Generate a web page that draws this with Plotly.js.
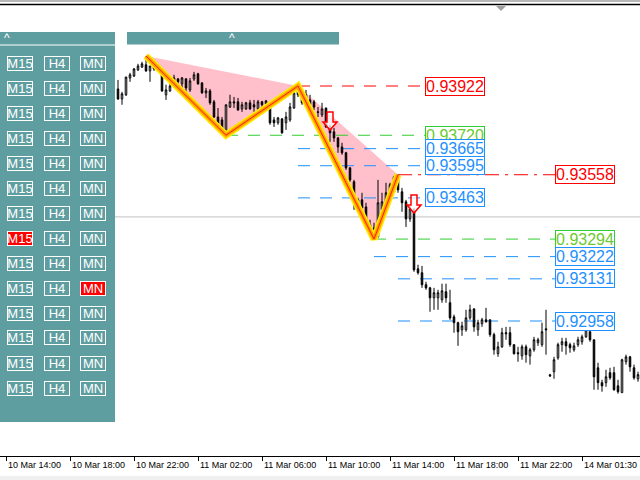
<!DOCTYPE html>
<html><head><meta charset="utf-8">
<script src="https://cdn.plot.ly/plotly-3.0.1.min.js"></script>
<style>html,body{margin:0;padding:0;background:#fff}#chart{width:640px;height:480px}</style>
</head><body><div id="chart"></div>
<script>
// ---- Axis labels ----
const tickLabels = ['10 Mar 14:00','10 Mar 18:00','10 Mar 22:00','11 Mar 02:00','11 Mar 06:00','11 Mar 10:00','11 Mar 14:00','11 Mar 18:00','11 Mar 22:00','14 Mar 01:30'];
const tickBars = [0,16,32,48,64,80,96,112,128,144];
const firstBar = 28;

// ---- M15 candles (prices) ----
const openP = [0.93910,0.93869,0.93886,0.93955,0.93963,0.93988,0.94000,0.94009,0.93984,0.94004,
0.93996,0.93984,0.93886,0.93902,0.93918,0.93951,0.93931,0.93951,0.93906,0.93951,
0.93972,0.93935,0.93894,0.93902,0.93857,0.93795,0.93783,0.93726,0.93836,0.93857,
0.93857,0.93828,0.93828,0.93853,0.93845,0.93828,0.93857,0.93849,0.93832,0.93783,
0.93771,0.93787,0.93771,0.93783,0.93832,0.93914,0.93898,0.93886,0.93865,0.93857,
0.93816,0.93804,0.93832,0.93754,0.93734,0.93709,0.93672,0.93648,0.93586,0.93529,
0.93414,0.93455,0.93426,0.93353,0.93340,0.93303,0.93414,0.93414,0.93476,0.93488,
0.93556,0.93488,0.93447,0.93377,0.93414,0.93172,0.93156,0.93107,0.93094,0.93053,
0.93053,0.93045,0.93078,0.93033,0.92975,0.92951,0.92922,0.92922,0.92971,0.93008,
0.92922,0.92947,0.92963,0.92963,0.92902,0.92824,0.92852,0.92910,0.92910,0.92861,
0.92828,0.92815,0.92852,0.92815,0.92840,0.92869,0.92861,0.92926,0.92737,0.92750,
0.92807,0.92861,0.92873,0.92861,0.92840,0.92861,0.92873,0.92893,0.92914,0.92881,
0.92766,0.92705,0.92705,0.92746,0.92746,0.92692,0.92664,0.92791,0.92811,0.92766,
0.92721];
const highP = [0.93947,0.93898,0.93959,0.93976,0.93996,0.94013,0.94021,0.94045,0.94004,0.94009,
0.94004,0.93988,0.93927,0.93939,0.93968,0.93955,0.93959,0.93955,0.93955,0.93980,
0.93976,0.93935,0.93914,0.93910,0.93865,0.93832,0.93795,0.93845,0.93886,0.93877,
0.93873,0.93857,0.93857,0.93865,0.93865,0.93865,0.93861,0.93865,0.93832,0.93795,
0.93795,0.93791,0.93816,0.93853,0.93914,0.93922,0.93914,0.93906,0.93886,0.93865,
0.93836,0.93853,0.93832,0.93763,0.93750,0.93713,0.93689,0.93652,0.93590,0.93537,
0.93463,0.93484,0.93443,0.93373,0.93361,0.93537,0.93484,0.93525,0.93525,0.93553,
0.93558,0.93504,0.93455,0.93430,0.93422,0.93189,0.93184,0.93119,0.93098,0.93094,
0.93086,0.93111,0.93111,0.93086,0.92984,0.92955,0.92955,0.93004,0.93025,0.93008,
0.92963,0.92971,0.93012,0.92963,0.92910,0.92873,0.92930,0.92934,0.92934,0.92861,
0.92852,0.92861,0.92861,0.92848,0.92893,0.92889,0.92951,0.93004,0.92741,0.92811,
0.92869,0.92889,0.92889,0.92869,0.92869,0.92893,0.92902,0.92942,0.92955,0.92881,
0.92787,0.92717,0.92758,0.92766,0.92770,0.92717,0.92803,0.92820,0.92815,0.92779,
0.92750];
const lowP = [0.93865,0.93845,0.93881,0.93939,0.93959,0.93984,0.93996,0.93980,0.93939,0.93984,
0.93980,0.93898,0.93865,0.93898,0.93914,0.93914,0.93898,0.93890,0.93898,0.93943,
0.93927,0.93890,0.93873,0.93845,0.93791,0.93742,0.93720,0.93720,0.93832,0.93832,
0.93820,0.93816,0.93824,0.93824,0.93816,0.93816,0.93836,0.93840,0.93763,0.93754,
0.93763,0.93726,0.93742,0.93775,0.93828,0.93877,0.93845,0.93849,0.93832,0.93824,
0.93795,0.93795,0.93750,0.93693,0.93693,0.93648,0.93640,0.93578,0.93529,0.93414,
0.93406,0.93406,0.93340,0.93324,0.93294,0.93299,0.93406,0.93406,0.93455,0.93484,
0.93484,0.93406,0.93344,0.93365,0.93160,0.93148,0.93094,0.93086,0.92996,0.93004,
0.93004,0.93033,0.93033,0.92963,0.92910,0.92856,0.92897,0.92914,0.92963,0.92914,
0.92897,0.92934,0.92951,0.92893,0.92820,0.92811,0.92848,0.92881,0.92852,0.92820,
0.92791,0.92799,0.92787,0.92779,0.92832,0.92856,0.92852,0.92820,0.92729,0.92721,
0.92799,0.92832,0.92820,0.92828,0.92832,0.92852,0.92861,0.92889,0.92873,0.92676,
0.92676,0.92668,0.92688,0.92717,0.92672,0.92660,0.92664,0.92779,0.92750,0.92717,
0.92709];
const closeP = [0.93869,0.93890,0.93959,0.93968,0.93992,0.94004,0.94013,0.93984,0.94004,0.93992,
0.93994,0.93902,0.93906,0.93922,0.93955,0.93939,0.93955,0.93914,0.93943,0.93968,
0.93931,0.93894,0.93902,0.93853,0.93795,0.93750,0.93730,0.93845,0.93857,0.93853,
0.93824,0.93845,0.93853,0.93828,0.93836,0.93857,0.93845,0.93861,0.93771,0.93771,
0.93791,0.93730,0.93795,0.93836,0.93894,0.93886,0.93853,0.93857,0.93845,0.93836,
0.93814,0.93828,0.93754,0.93730,0.93709,0.93672,0.93648,0.93586,0.93537,0.93455,
0.93455,0.93422,0.93344,0.93332,0.93303,0.93443,0.93447,0.93484,0.93517,0.93549,
0.93496,0.93443,0.93377,0.93418,0.93168,0.93156,0.93107,0.93094,0.93053,0.93074,
0.93074,0.93082,0.93053,0.92971,0.92951,0.92914,0.92938,0.92971,0.93004,0.92934,
0.92951,0.92963,0.92955,0.92902,0.92840,0.92852,0.92910,0.92906,0.92861,0.92824,
0.92824,0.92852,0.92820,0.92840,0.92881,0.92881,0.92914,0.92922,0.92733,0.92799,
0.92861,0.92873,0.92856,0.92848,0.92856,0.92881,0.92893,0.92922,0.92881,0.92729,
0.92705,0.92692,0.92729,0.92725,0.92676,0.92668,0.92799,0.92811,0.92770,0.92725,
0.92738];

// ---- Harmonic pattern X A B C D ----
const patternBars = [35, 55, 73, 92, 98];
const patternPrices = [0.94045, 0.93720, 0.93922, 0.93294, 0.93558];

// ---- Levels ----
const levelPrices = [0.93922, 0.93720, 0.93665, 0.93595, 0.93558, 0.93463, 0.93294, 0.93222, 0.93131, 0.92958];
const levelFromBar = [73, 55, 73, 73, 98, 73, 92, 92, 98, 98];
const levelGroup  = [0, 0, 0, 0, 1, 0, 1, 1, 1, 1];
const levelKind   = ['red','green','blue','blue','reddot','blue','green','blue','blue','blue'];
const labelBars = [104.75, 137.25];

// ---- Arrows, reference line ----
const arrowBars = [81, 102];
const arrowPrices = [0.93778, 0.93438];
const greyLinePrice = 0.93385;

// ---- Panel buttons ----
const btnRows = 14;
const btnNames = ['M15','H4','MN'];
const activeButtons = [[7,0],[9,2]];

// ---------------- build ----------------
const H = 480, W = 640, TOP = 5, BOT = 456;
const px = x => x / W;
const py = y => (BOT - y) / (BOT - TOP);
const teal = '#5F9EA0';
const styles = {
  red:    {line:'#FF0000', text:'#FF0000', dash:'12px,10px'},
  reddot: {line:'#FF0000', text:'#FF0000', dash:'14px,6px,3px,6px'},
  green:  {line:'#32CD32', text:'#6ACB2E', dash:'12px,10px'},
  blue:   {line:'#1E90FF', text:'#1E90FF', dash:'12px,10px'}
};

const xBars = openP.map((_, k) => firstBar + k);

const traces = [{
  type: 'candlestick', x: xBars, open: openP, high: highP, low: lowP, close: closeP,
  increasing: {line: {color: '#000', width: 1}, fillcolor: '#FFFFFF'},
  decreasing: {line: {color: '#000', width: 1}, fillcolor: '#000000'},
  whiskerwidth: 0, hoverinfo: 'skip', showlegend: false
}];
[['#FFEA00', 7], ['#FFA500', 4], ['#FF1A00', 1]].forEach(([c, w]) => {
  traces.push({type: 'scatter', mode: 'lines', x: patternBars, y: patternPrices,
    line: {color: c, width: w}, hoverinfo: 'skip', showlegend: false});
});

const shapes = [];
shapes.push({type: 'line', xref: 'paper', yref: 'y', x0: 0, x1: 1, y0: greyLinePrice, y1: greyLinePrice,
  line: {color: '#C0C0C0', width: 1}, layer: 'below'});
[[0, 1, 2], [2, 3, 4]].forEach(tri => {
  const p = tri.map(i => patternBars[i] + ',' + patternPrices[i]);
  shapes.push({type: 'path', xref: 'x', yref: 'y', path: 'M' + p[0] + 'L' + p[1] + 'L' + p[2] + 'Z',
    fillcolor: '#FFC0CB', line: {width: 0}, layer: 'below'});
});
levelPrices.forEach((p, i) => {
  const st = styles[levelKind[i]];
  shapes.push({type: 'line', xref: 'x', yref: 'y', x0: levelFromBar[i], x1: labelBars[levelGroup[i]],
    y0: p, y1: p, line: {color: st.line, width: 1, dash: st.dash}, layer: 'below'});
});
arrowBars.forEach((b, i) => {
  shapes.push({type: 'path', xref: 'x', yref: 'y', xsizemode: 'pixel', ysizemode: 'pixel',
    xanchor: b, yanchor: arrowPrices[i],
    path: 'M-3,9L3,9L3,-1L7,-1L0,-9L-7,-1L-3,-1Z',
    fillcolor: 'rgba(255,255,255,0.75)', line: {color: '#FF0000', width: 1.5}, layer: 'above'});
});
shapes.push({type: 'rect', xref: 'paper', yref: 'paper', x0: 0, x1: 1, y0: py(2), y1: py(0),
  fillcolor: '#B8B8B8', line: {width: 0}});
shapes.push({type: 'line', xref: 'paper', yref: 'paper', x0: 0, x1: 1, y0: py(4.5), y1: py(4.5),
  line: {color: '#000', width: 1.5}});
shapes.push({type: 'path', xref: 'paper', yref: 'paper',
  path: `M${px(496)},${py(6)}L${px(506)},${py(6)}L${px(501)},${py(11)}Z`, fillcolor: '#A0A0A0', line: {width: 0}});
shapes.push({type: 'rect', xref: 'paper', yref: 'paper', x0: 0, x1: 1, y0: py(480), y1: py(476),
  fillcolor: '#F0F0F0', line: {width: 0}});
shapes.push({type: 'rect', xref: 'paper', yref: 'paper', x0: px(0), x1: px(115), y0: py(422), y1: py(32),
  fillcolor: teal, line: {width: 0}, layer: 'above'});
shapes.push({type: 'line', xref: 'paper', yref: 'paper', x0: px(0), x1: px(115), y0: py(45), y1: py(45),
  line: {color: '#FFFFFF', width: 1}, layer: 'above'});
shapes.push({type: 'rect', xref: 'paper', yref: 'paper', x0: px(127), x1: px(339), y0: py(44.5), y1: py(32),
  fillcolor: teal, line: {width: 0}, layer: 'above'});

const annotations = [];
tickBars.forEach((b, i) => annotations.push({xref: 'x', yref: 'paper', x: b, y: py(465),
  xanchor: 'left', yanchor: 'middle', xshift: 0, text: tickLabels[i], showarrow: false,
  font: {family: 'Liberation Sans', size: 9, color: '#000'}}));
[7, 232].forEach(x => annotations.push({xref: 'paper', yref: 'paper', x: px(x), y: py(38),
  xanchor: 'center', yanchor: 'middle', text: '^', showarrow: false,
  font: {family: 'Liberation Sans', size: 12, color: '#FFFFFF'}}));
const btnX = [20, 56.5, 93];
for (let r = 0; r < btnRows; r++) {
  btnNames.forEach((name, c) => {
    const active = activeButtons.some(a => a[0] === r && a[1] === c);
    annotations.push({xref: 'paper', yref: 'paper', x: px(btnX[c]), y: py(63 + 25 * r),
      xanchor: 'center', yanchor: 'middle', text: name, showarrow: false,
      width: 24, height: 13, borderpad: 0, borderwidth: 1, bordercolor: '#FFFFFF',
      bgcolor: active ? '#FF0000' : teal,
      font: {family: 'Liberation Sans', size: 13, color: '#FFFFFF'}});
  });
}
levelPrices.forEach((p, i) => {
  const st = styles[levelKind[i]];
  annotations.push({xref: 'x', yref: 'y', x: labelBars[levelGroup[i]], y: p,
    xanchor: 'left', yanchor: 'middle', text: p.toFixed(5), showarrow: false,
    width: 58, height: 17, borderpad: 0, borderwidth: 1, bordercolor: st.line, bgcolor: '#FFFFFF',
    font: {family: 'Liberation Sans', size: 16, color: st.text}});
});

const layout = {
  width: W, height: H, margin: {l: 0, r: 0, t: TOP, b: H - BOT},
  paper_bgcolor: '#FFFFFF', plot_bgcolor: '#FFFFFF', showlegend: false, boxgap: 0.45,
  xaxis: {range: [-1.5, 158.5], tickmode: 'array', tickvals: tickBars, ticktext: tickLabels,
    showticklabels: false, ticks: 'outside', ticklen: 4, tickcolor: '#000', tickwidth: 1,
    showline: true, linecolor: '#000', linewidth: 1, showgrid: false, zeroline: false,
    rangeslider: {visible: false}, fixedrange: true},
  yaxis: {range: [0.924042, 0.942543], showticklabels: false, showgrid: false, zeroline: false,
    showline: false, ticks: '', fixedrange: true},
  shapes: shapes, annotations: annotations
};
Plotly.newPlot('chart', traces, layout, {displayModeBar: false, staticPlot: true});
</script></body></html>
